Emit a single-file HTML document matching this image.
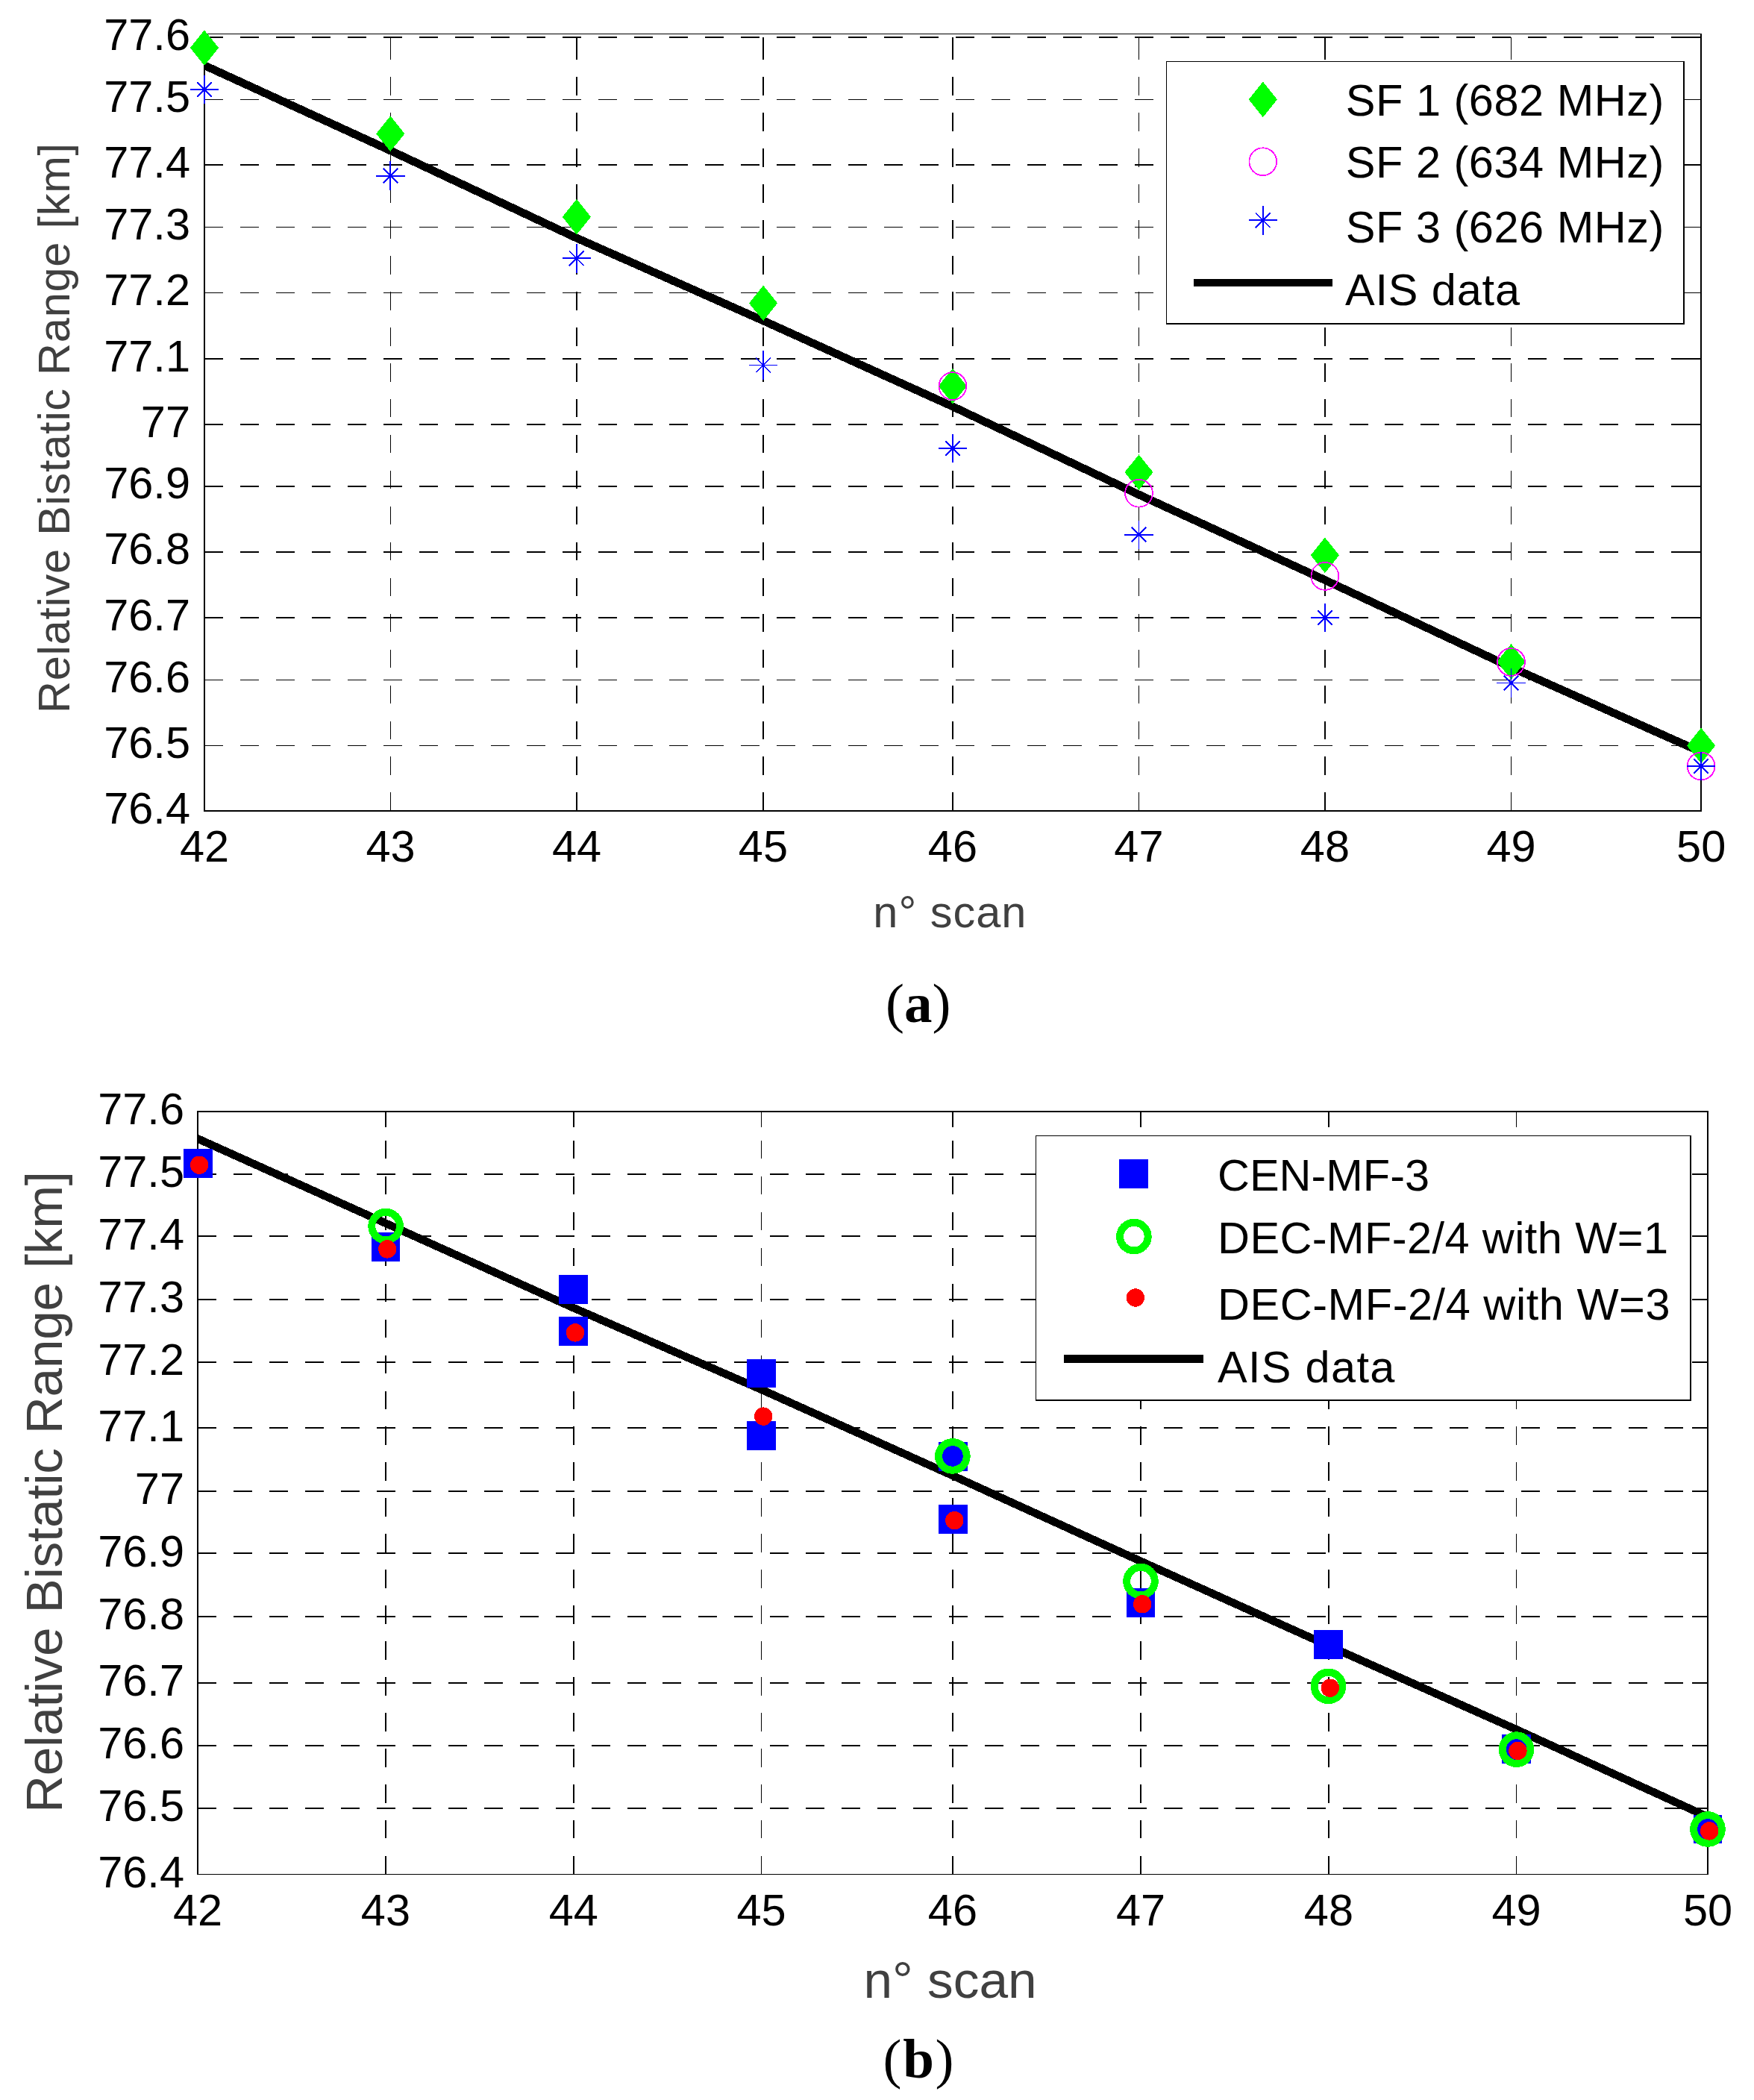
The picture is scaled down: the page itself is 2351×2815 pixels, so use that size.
<!DOCTYPE html>
<html><head><meta charset="utf-8"><title>Relative Bistatic Range</title>
<style>html,body{margin:0;padding:0;background:#fff}svg{display:block}</style></head><body>
<svg width="2351" height="2815" viewBox="0 0 2351 2815">
<rect width="2351" height="2815" fill="#fff"/>
<g id="plot-a" shape-rendering="crispEdges">
<g shape-rendering="crispEdges" stroke="#000" fill="none">
<line x1="274.1" y1="50" x2="2280.2" y2="50" stroke-width="2" stroke-dasharray="25 22.95"/>
<line x1="274.1" y1="50" x2="295.1" y2="50" stroke-width="2"/>
<line x1="2280.2" y1="50" x2="2259.2" y2="50" stroke-width="2"/>
<line x1="274.1" y1="133.5" x2="2280.2" y2="133.5" stroke-width="1" stroke-dasharray="25 22.95"/>
<line x1="274.1" y1="133.5" x2="295.1" y2="133.5" stroke-width="1"/>
<line x1="2280.2" y1="133.5" x2="2259.2" y2="133.5" stroke-width="1"/>
<line x1="274.1" y1="221" x2="2280.2" y2="221" stroke-width="2" stroke-dasharray="25 22.95"/>
<line x1="274.1" y1="221" x2="295.1" y2="221" stroke-width="2"/>
<line x1="2280.2" y1="221" x2="2259.2" y2="221" stroke-width="2"/>
<line x1="274.1" y1="304.5" x2="2280.2" y2="304.5" stroke-width="1" stroke-dasharray="25 22.95"/>
<line x1="274.1" y1="304.5" x2="295.1" y2="304.5" stroke-width="1"/>
<line x1="2280.2" y1="304.5" x2="2259.2" y2="304.5" stroke-width="1"/>
<line x1="274.1" y1="392.5" x2="2280.2" y2="392.5" stroke-width="1" stroke-dasharray="25 22.95"/>
<line x1="274.1" y1="392.5" x2="295.1" y2="392.5" stroke-width="1"/>
<line x1="2280.2" y1="392.5" x2="2259.2" y2="392.5" stroke-width="1"/>
<line x1="274.1" y1="481" x2="2280.2" y2="481" stroke-width="2" stroke-dasharray="25 22.95"/>
<line x1="274.1" y1="481" x2="295.1" y2="481" stroke-width="2"/>
<line x1="2280.2" y1="481" x2="2259.2" y2="481" stroke-width="2"/>
<line x1="274.1" y1="569" x2="2280.2" y2="569" stroke-width="2" stroke-dasharray="25 22.95"/>
<line x1="274.1" y1="569" x2="295.1" y2="569" stroke-width="2"/>
<line x1="2280.2" y1="569" x2="2259.2" y2="569" stroke-width="2"/>
<line x1="274.1" y1="652" x2="2280.2" y2="652" stroke-width="2" stroke-dasharray="25 22.95"/>
<line x1="274.1" y1="652" x2="295.1" y2="652" stroke-width="2"/>
<line x1="2280.2" y1="652" x2="2259.2" y2="652" stroke-width="2"/>
<line x1="274.1" y1="740" x2="2280.2" y2="740" stroke-width="2" stroke-dasharray="25 22.95"/>
<line x1="274.1" y1="740" x2="295.1" y2="740" stroke-width="2"/>
<line x1="2280.2" y1="740" x2="2259.2" y2="740" stroke-width="2"/>
<line x1="274.1" y1="828" x2="2280.2" y2="828" stroke-width="2" stroke-dasharray="25 22.95"/>
<line x1="274.1" y1="828" x2="295.1" y2="828" stroke-width="2"/>
<line x1="2280.2" y1="828" x2="2259.2" y2="828" stroke-width="2"/>
<line x1="274.1" y1="911.5" x2="2280.2" y2="911.5" stroke-width="1" stroke-dasharray="25 22.95"/>
<line x1="274.1" y1="911.5" x2="295.1" y2="911.5" stroke-width="1"/>
<line x1="2280.2" y1="911.5" x2="2259.2" y2="911.5" stroke-width="1"/>
<line x1="274.1" y1="999.5" x2="2280.2" y2="999.5" stroke-width="1" stroke-dasharray="25 22.95"/>
<line x1="274.1" y1="999.5" x2="295.1" y2="999.5" stroke-width="1"/>
<line x1="2280.2" y1="999.5" x2="2259.2" y2="999.5" stroke-width="1"/>
<line x1="523.5" y1="1086.9" x2="523.5" y2="49.8" stroke-width="1" stroke-dasharray="24.5 23.45"/>
<line x1="523.5" y1="1086.9" x2="523.5" y2="1065.9" stroke-width="1"/>
<line x1="523.5" y1="49.8" x2="523.5" y2="70.8" stroke-width="1"/>
<line x1="773" y1="1086.9" x2="773" y2="49.8" stroke-width="2" stroke-dasharray="24.5 23.45"/>
<line x1="773" y1="1086.9" x2="773" y2="1065.9" stroke-width="2"/>
<line x1="773" y1="49.8" x2="773" y2="70.8" stroke-width="2"/>
<line x1="1023" y1="1086.9" x2="1023" y2="49.8" stroke-width="2" stroke-dasharray="24.5 23.45"/>
<line x1="1023" y1="1086.9" x2="1023" y2="1065.9" stroke-width="2"/>
<line x1="1023" y1="49.8" x2="1023" y2="70.8" stroke-width="2"/>
<line x1="1277" y1="1086.9" x2="1277" y2="49.8" stroke-width="2" stroke-dasharray="24.5 23.45"/>
<line x1="1277" y1="1086.9" x2="1277" y2="1065.9" stroke-width="2"/>
<line x1="1277" y1="49.8" x2="1277" y2="70.8" stroke-width="2"/>
<line x1="1526.5" y1="1086.9" x2="1526.5" y2="49.8" stroke-width="1" stroke-dasharray="24.5 23.45"/>
<line x1="1526.5" y1="1086.9" x2="1526.5" y2="1065.9" stroke-width="1"/>
<line x1="1526.5" y1="49.8" x2="1526.5" y2="70.8" stroke-width="1"/>
<line x1="1776" y1="1086.9" x2="1776" y2="49.8" stroke-width="2" stroke-dasharray="24.5 23.45"/>
<line x1="1776" y1="1086.9" x2="1776" y2="1065.9" stroke-width="2"/>
<line x1="1776" y1="49.8" x2="1776" y2="70.8" stroke-width="2"/>
<line x1="2025.5" y1="1086.9" x2="2025.5" y2="49.8" stroke-width="1" stroke-dasharray="24.5 23.45"/>
<line x1="2025.5" y1="1086.9" x2="2025.5" y2="1065.9" stroke-width="1"/>
<line x1="2025.5" y1="49.8" x2="2025.5" y2="70.8" stroke-width="1"/>
<line x1="273.1" y1="45.5" x2="2281.2" y2="45.5" stroke-width="1"/>
<line x1="273.1" y1="1087" x2="2281.2" y2="1087" stroke-width="2"/>
<line x1="274" y1="45.4" x2="274" y2="1086.9" stroke-width="2"/>
<line x1="2280" y1="45.4" x2="2280" y2="1086.9" stroke-width="2"/>
</g>
<g font-family='"Liberation Sans", Arial, Helvetica, sans-serif' font-size="59.5" fill="#000">
<text x="255" y="66.6" text-anchor="end">77.6</text>
<text x="255" y="150.4" text-anchor="end">77.5</text>
<text x="255" y="237.9" text-anchor="end">77.4</text>
<text x="255" y="321.4" text-anchor="end">77.3</text>
<text x="255" y="409.1" text-anchor="end">77.2</text>
<text x="255" y="497.8" text-anchor="end">77.1</text>
<text x="255" y="585.5" text-anchor="end">77</text>
<text x="255" y="668.4" text-anchor="end">76.9</text>
<text x="255" y="756.4" text-anchor="end">76.8</text>
<text x="255" y="844.7" text-anchor="end">76.7</text>
<text x="255" y="928" text-anchor="end">76.6</text>
<text x="255" y="1016.1" text-anchor="end">76.5</text>
<text x="255" y="1103.7" text-anchor="end">76.4</text>
<text x="274.1" y="1154.5" text-anchor="middle">42</text>
<text x="523.6" y="1154.5" text-anchor="middle">43</text>
<text x="773.1" y="1154.5" text-anchor="middle">44</text>
<text x="1022.9" y="1154.5" text-anchor="middle">45</text>
<text x="1276.9" y="1154.5" text-anchor="middle">46</text>
<text x="1526.4" y="1154.5" text-anchor="middle">47</text>
<text x="1775.9" y="1154.5" text-anchor="middle">48</text>
<text x="2025.5" y="1154.5" text-anchor="middle">49</text>
<text x="2280.2" y="1154.5" text-anchor="middle">50</text>
</g>
<clipPath id="ca"><rect x="274.1" y="45.4" width="2006.1" height="1041.5"/></clipPath>
<polyline points="254.1,78.5 274.1,87.7 523.6,202 773.1,319.2 1022.9,429.8 1276.9,544.9 1526.4,663 1775.9,777.5 2025.5,894.5 2280.2,1008 2300.2,1017" clip-path="url(#ca)" fill="none" stroke="#000" stroke-width="10.8" stroke-linejoin="round"/>
<polygon points="274,40.4 293.1,64.2 274,88 254.9,64.2" fill="#00ff00"/>
<polygon points="523.3,155.4 542.4,179.2 523.3,203 504.2,179.2" fill="#00ff00"/>
<polygon points="772.9,266.9 792,290.7 772.9,314.5 753.8,290.7" fill="#00ff00"/>
<polygon points="1023.1,382.6 1042.2,406.4 1023.1,430.2 1004,406.4" fill="#00ff00"/>
<polygon points="1276.9,493.8 1296,517.6 1276.9,541.4 1257.8,517.6" fill="#00ff00"/>
<polygon points="1526.5,609.3 1545.6,633.1 1526.5,656.9 1507.4,633.1" fill="#00ff00"/>
<polygon points="1775.9,720.5 1795,744.3 1775.9,768.1 1756.8,744.3" fill="#00ff00"/>
<polygon points="2025.5,863.2 2044.6,887 2025.5,910.8 2006.4,887" fill="#00ff00"/>
<polygon points="2280.1,975.7 2299.2,999.5 2280.1,1023.3 2261,999.5" fill="#00ff00"/>
<circle cx="1276.9" cy="517.6" r="18.4" fill="none" stroke="#ff00ff" stroke-width="1.8"/>
<circle cx="1526.5" cy="661.2" r="18.4" fill="none" stroke="#ff00ff" stroke-width="1.8"/>
<circle cx="1775.9" cy="772.4" r="18.4" fill="none" stroke="#ff00ff" stroke-width="1.8"/>
<circle cx="2025.5" cy="887.5" r="18.4" fill="none" stroke="#ff00ff" stroke-width="1.8"/>
<circle cx="2280.1" cy="1027" r="18.4" fill="none" stroke="#ff00ff" stroke-width="1.8"/>
<path d="M254.7 119.8H293.3M274 100.5V139.1M264.2 110L283.8 129.6M264.2 129.6L283.8 110" fill="none" stroke="#0000ff" stroke-width="1.9"/>
<path d="M504 235.6H542.6M523.3 216.3V254.9M513.5 225.8L533.1 245.4M513.5 245.4L533.1 225.8" fill="none" stroke="#0000ff" stroke-width="1.9"/>
<path d="M753.6 346.4H792.2M772.9 327.1V365.7M763.1 336.6L782.7 356.2M763.1 356.2L782.7 336.6" fill="none" stroke="#0000ff" stroke-width="1.9"/>
<path d="M1003.8 489.5H1042.4M1023.1 470.2V508.8M1013.3 479.7L1032.9 499.3M1013.3 499.3L1032.9 479.7" fill="none" stroke="#0000ff" stroke-width="1.9"/>
<path d="M1257.6 601H1296.2M1276.9 581.7V620.3M1267.1 591.2L1286.7 610.8M1267.1 610.8L1286.7 591.2" fill="none" stroke="#0000ff" stroke-width="1.9"/>
<path d="M1507.2 716.8H1545.8M1526.5 697.5V736.1M1516.7 707L1536.3 726.6M1516.7 726.6L1536.3 707" fill="none" stroke="#0000ff" stroke-width="1.9"/>
<path d="M1756.6 828.1H1795.2M1775.9 808.8V847.4M1766.1 818.3L1785.7 837.9M1766.1 837.9L1785.7 818.3" fill="none" stroke="#0000ff" stroke-width="1.9"/>
<path d="M2006.2 915.5H2044.8M2025.5 896.2V934.8M2015.7 905.7L2035.3 925.3M2015.7 925.3L2035.3 905.7" fill="none" stroke="#0000ff" stroke-width="1.9"/>
<path d="M2260.8 1027H2299.4M2280.1 1007.7V1046.3M2270.3 1017.2L2289.9 1036.8M2270.3 1036.8L2289.9 1017.2" fill="none" stroke="#0000ff" stroke-width="1.9"/>
<rect x="1563.3" y="82.3" width="693.8" height="351.8" fill="#fff" stroke="#000" stroke-width="1.4" shape-rendering="crispEdges"/>
<polygon points="1692.8,109.6 1711.9,133.4 1692.8,157.2 1673.7,133.4" fill="#00ff00"/>
<circle cx="1692.8" cy="216.7" r="18.4" fill="none" stroke="#ff00ff" stroke-width="1.8"/>
<path d="M1673.5 295.3H1712.1M1692.8 276V314.6M1683 285.5L1702.6 305.1M1683 305.1L1702.6 285.5" fill="none" stroke="#0000ff" stroke-width="1.9"/>
<line x1="1599.7" y1="378.8" x2="1785.8" y2="378.8" stroke="#000" stroke-width="10"/>
<g font-family='"Liberation Sans", Arial, Helvetica, sans-serif' font-size="59.5" fill="#000">
<text x="1803.8" y="154.6" textLength="426.5" lengthAdjust="spacing">SF 1 (682 MHz)</text>
<text x="1803.8" y="237.9" textLength="426.5" lengthAdjust="spacing">SF 2 (634 MHz)</text>
<text x="1803.8" y="325.2" textLength="426.5" lengthAdjust="spacing">SF 3 (626 MHz)</text>
<text x="1803.0" y="408.9" textLength="234" lengthAdjust="spacing">AIS data</text>
</g>
<g font-family='"Liberation Sans", Arial, Helvetica, sans-serif' fill="#404040">
<text x="1272.8" y="1243.4" font-size="59.5" text-anchor="middle" textLength="205" lengthAdjust="spacing">n° scan</text>
<text transform="translate(93.2 956) rotate(-90)" font-size="59.5" textLength="764" lengthAdjust="spacing">Relative Bistatic Range [km]</text>
</g>
<text x="1230.8" y="1369.6" font-family='"Liberation Serif", "Times New Roman", serif' font-size="75" text-anchor="middle" fill="#000">(<tspan font-weight="bold">a</tspan>)</text>
</g>
<g id="plot-b" shape-rendering="crispEdges">
<g shape-rendering="crispEdges" stroke="#000" fill="none">
<line x1="265.1" y1="1574" x2="2289" y2="1574" stroke-width="2" stroke-dasharray="25 22.95"/>
<line x1="265.1" y1="1574" x2="286.1" y2="1574" stroke-width="2"/>
<line x1="2289" y1="1574" x2="2268" y2="1574" stroke-width="2"/>
<line x1="265.1" y1="1657" x2="2289" y2="1657" stroke-width="2" stroke-dasharray="25 22.95"/>
<line x1="265.1" y1="1657" x2="286.1" y2="1657" stroke-width="2"/>
<line x1="2289" y1="1657" x2="2268" y2="1657" stroke-width="2"/>
<line x1="265.1" y1="1742" x2="2289" y2="1742" stroke-width="2" stroke-dasharray="25 22.95"/>
<line x1="265.1" y1="1742" x2="286.1" y2="1742" stroke-width="2"/>
<line x1="2289" y1="1742" x2="2268" y2="1742" stroke-width="2"/>
<line x1="265.1" y1="1826" x2="2289" y2="1826" stroke-width="2" stroke-dasharray="25 22.95"/>
<line x1="265.1" y1="1826" x2="286.1" y2="1826" stroke-width="2"/>
<line x1="2289" y1="1826" x2="2268" y2="1826" stroke-width="2"/>
<line x1="265.1" y1="1914" x2="2289" y2="1914" stroke-width="2" stroke-dasharray="25 22.95"/>
<line x1="265.1" y1="1914" x2="286.1" y2="1914" stroke-width="2"/>
<line x1="2289" y1="1914" x2="2268" y2="1914" stroke-width="2"/>
<line x1="265.1" y1="1999" x2="2289" y2="1999" stroke-width="2" stroke-dasharray="25 22.95"/>
<line x1="265.1" y1="1999" x2="286.1" y2="1999" stroke-width="2"/>
<line x1="2289" y1="1999" x2="2268" y2="1999" stroke-width="2"/>
<line x1="265.1" y1="2082" x2="2289" y2="2082" stroke-width="2" stroke-dasharray="25 22.95"/>
<line x1="265.1" y1="2082" x2="286.1" y2="2082" stroke-width="2"/>
<line x1="2289" y1="2082" x2="2268" y2="2082" stroke-width="2"/>
<line x1="265.1" y1="2167" x2="2289" y2="2167" stroke-width="2" stroke-dasharray="25 22.95"/>
<line x1="265.1" y1="2167" x2="286.1" y2="2167" stroke-width="2"/>
<line x1="2289" y1="2167" x2="2268" y2="2167" stroke-width="2"/>
<line x1="265.1" y1="2256" x2="2289" y2="2256" stroke-width="2" stroke-dasharray="25 22.95"/>
<line x1="265.1" y1="2256" x2="286.1" y2="2256" stroke-width="2"/>
<line x1="2289" y1="2256" x2="2268" y2="2256" stroke-width="2"/>
<line x1="265.1" y1="2340" x2="2289" y2="2340" stroke-width="2" stroke-dasharray="25 22.95"/>
<line x1="265.1" y1="2340" x2="286.1" y2="2340" stroke-width="2"/>
<line x1="2289" y1="2340" x2="2268" y2="2340" stroke-width="2"/>
<line x1="265.1" y1="2424" x2="2289" y2="2424" stroke-width="2" stroke-dasharray="25 22.95"/>
<line x1="265.1" y1="2424" x2="286.1" y2="2424" stroke-width="2"/>
<line x1="2289" y1="2424" x2="2268" y2="2424" stroke-width="2"/>
<line x1="517" y1="2512.4" x2="517" y2="1489.7" stroke-width="2" stroke-dasharray="24.5 23.45"/>
<line x1="517" y1="2512.4" x2="517" y2="2491.4" stroke-width="2"/>
<line x1="517" y1="1489.7" x2="517" y2="1510.7" stroke-width="2"/>
<line x1="769" y1="2512.4" x2="769" y2="1489.7" stroke-width="2" stroke-dasharray="24.5 23.45"/>
<line x1="769" y1="2512.4" x2="769" y2="2491.4" stroke-width="2"/>
<line x1="769" y1="1489.7" x2="769" y2="1510.7" stroke-width="2"/>
<line x1="1020.5" y1="2512.4" x2="1020.5" y2="1489.7" stroke-width="1" stroke-dasharray="24.5 23.45"/>
<line x1="1020.5" y1="2512.4" x2="1020.5" y2="2491.4" stroke-width="1"/>
<line x1="1020.5" y1="1489.7" x2="1020.5" y2="1510.7" stroke-width="1"/>
<line x1="1277" y1="2512.4" x2="1277" y2="1489.7" stroke-width="2" stroke-dasharray="24.5 23.45"/>
<line x1="1277" y1="2512.4" x2="1277" y2="2491.4" stroke-width="2"/>
<line x1="1277" y1="1489.7" x2="1277" y2="1510.7" stroke-width="2"/>
<line x1="1529" y1="2512.4" x2="1529" y2="1489.7" stroke-width="2" stroke-dasharray="24.5 23.45"/>
<line x1="1529" y1="2512.4" x2="1529" y2="2491.4" stroke-width="2"/>
<line x1="1529" y1="1489.7" x2="1529" y2="1510.7" stroke-width="2"/>
<line x1="1781" y1="2512.4" x2="1781" y2="1489.7" stroke-width="2" stroke-dasharray="24.5 23.45"/>
<line x1="1781" y1="2512.4" x2="1781" y2="2491.4" stroke-width="2"/>
<line x1="1781" y1="1489.7" x2="1781" y2="1510.7" stroke-width="2"/>
<line x1="2032.5" y1="2512.4" x2="2032.5" y2="1489.7" stroke-width="1" stroke-dasharray="24.5 23.45"/>
<line x1="2032.5" y1="2512.4" x2="2032.5" y2="2491.4" stroke-width="1"/>
<line x1="2032.5" y1="1489.7" x2="2032.5" y2="1510.7" stroke-width="1"/>
<line x1="264.1" y1="1490" x2="2290" y2="1490" stroke-width="2"/>
<line x1="264.1" y1="2512.5" x2="2290" y2="2512.5" stroke-width="1"/>
<line x1="265" y1="1489.7" x2="265" y2="2512.4" stroke-width="2"/>
<line x1="2289" y1="1489.7" x2="2289" y2="2512.4" stroke-width="2"/>
</g>
<g font-family='"Liberation Sans", Arial, Helvetica, sans-serif' font-size="59.5" fill="#000">
<text x="247" y="1507.1" text-anchor="end">77.6</text>
<text x="247" y="1591.1" text-anchor="end">77.5</text>
<text x="247" y="1674.8" text-anchor="end">77.4</text>
<text x="247" y="1759" text-anchor="end">77.3</text>
<text x="247" y="1842.9" text-anchor="end">77.2</text>
<text x="247" y="1931.8" text-anchor="end">77.1</text>
<text x="247" y="2016.2" text-anchor="end">77</text>
<text x="247" y="2099.9" text-anchor="end">76.9</text>
<text x="247" y="2184.2" text-anchor="end">76.8</text>
<text x="247" y="2273" text-anchor="end">76.7</text>
<text x="247" y="2357.2" text-anchor="end">76.6</text>
<text x="247" y="2441.2" text-anchor="end">76.5</text>
<text x="247" y="2529.8" text-anchor="end">76.4</text>
<text x="265.1" y="2581" text-anchor="middle">42</text>
<text x="516.9" y="2581" text-anchor="middle">43</text>
<text x="768.8" y="2581" text-anchor="middle">44</text>
<text x="1020.6" y="2581" text-anchor="middle">45</text>
<text x="1276.9" y="2581" text-anchor="middle">46</text>
<text x="1529" y="2581" text-anchor="middle">47</text>
<text x="1780.9" y="2581" text-anchor="middle">48</text>
<text x="2032.6" y="2581" text-anchor="middle">49</text>
<text x="2289" y="2581" text-anchor="middle">50</text>
</g>
<clipPath id="cb"><rect x="265.1" y="1489.7" width="2023.9" height="1022.7"/></clipPath>
<polyline points="245.1,1517.4 265.1,1526.4 516.9,1639.7 768.8,1753.2 1020.6,1862.7 1276.9,1978 1529,2092.8 1780.9,2206.2 2032.6,2318.4 2289,2435.5 2309,2444.4" clip-path="url(#cb)" fill="none" stroke="#000" stroke-width="10.6" stroke-linejoin="round"/>
<rect x="246.4" y="1540.2" width="38.5" height="38.5" fill="#0000ff"/>
<rect x="497.9" y="1652.2" width="38.5" height="38.5" fill="#0000ff"/>
<rect x="749.2" y="1709" width="38.5" height="38.5" fill="#0000ff"/>
<rect x="749.2" y="1765.2" width="38.5" height="38.5" fill="#0000ff"/>
<rect x="1001.4" y="1821.5" width="38.5" height="38.5" fill="#0000ff"/>
<rect x="1001.4" y="1905.2" width="38.5" height="38.5" fill="#0000ff"/>
<rect x="1258.2" y="1933.2" width="38.5" height="38.5" fill="#0000ff"/>
<rect x="1258.2" y="2017.3" width="38.5" height="38.5" fill="#0000ff"/>
<rect x="1509.8" y="2129.1" width="38.5" height="38.5" fill="#0000ff"/>
<rect x="1761.2" y="2185.3" width="38.5" height="38.5" fill="#0000ff"/>
<rect x="2013.2" y="2325.2" width="38.5" height="38.5" fill="#0000ff"/>
<rect x="2269.7" y="2432.8" width="38.5" height="38.5" fill="#0000ff"/>
<circle cx="517.1" cy="1643.6" r="18.8" fill="none" stroke="#00ff00" stroke-width="10.0"/>
<circle cx="1276.9" cy="1951.9" r="18.8" fill="none" stroke="#00ff00" stroke-width="10.0"/>
<circle cx="1529" cy="2119.6" r="18.8" fill="none" stroke="#00ff00" stroke-width="10.0"/>
<circle cx="1780.5" cy="2260.4" r="18.8" fill="none" stroke="#00ff00" stroke-width="10.0"/>
<circle cx="2032.6" cy="2345.1" r="18.8" fill="none" stroke="#00ff00" stroke-width="10.0"/>
<circle cx="2289" cy="2452" r="18.8" fill="none" stroke="#00ff00" stroke-width="10.0"/>
<circle cx="267.2" cy="1561.7" r="12.2" fill="#ff0000"/>
<circle cx="519.2" cy="1674.4" r="12.2" fill="#ff0000"/>
<circle cx="771" cy="1786.4" r="12.2" fill="#ff0000"/>
<circle cx="1023.2" cy="1898.6" r="12.2" fill="#ff0000"/>
<circle cx="1279.3" cy="2038.1" r="12.2" fill="#ff0000"/>
<circle cx="1531.1" cy="2150.3" r="12.2" fill="#ff0000"/>
<circle cx="1782.8" cy="2262.7" r="12.2" fill="#ff0000"/>
<circle cx="2034.4" cy="2346.9" r="12.2" fill="#ff0000"/>
<circle cx="2291.1" cy="2454.4" r="12.2" fill="#ff0000"/>
<rect x="1388.5" y="1522.4" width="877.5" height="354.7" fill="#fff" stroke="#000" stroke-width="1.4" shape-rendering="crispEdges"/>
<rect x="1500" y="1553.8" width="39" height="39" fill="#0000ff"/>
<circle cx="1519.9" cy="1657.6" r="18.8" fill="none" stroke="#00ff00" stroke-width="10.0"/>
<circle cx="1521.9" cy="1739.5" r="12.2" fill="#ff0000"/>
<line x1="1426.2" y1="1821" x2="1612.9" y2="1821" stroke="#000" stroke-width="11"/>
<g font-family='"Liberation Sans", Arial, Helvetica, sans-serif' font-size="59.5" fill="#000">
<text x="1632" y="1595.5" textLength="284" lengthAdjust="spacing">CEN-MF-3</text>
<text x="1632" y="1680.2" textLength="604" lengthAdjust="spacing">DEC-MF-2/4 with W=1</text>
<text x="1632" y="1768.8" textLength="606.5" lengthAdjust="spacing">DEC-MF-2/4 with W=3</text>
<text x="1632" y="1852.9" textLength="237.3" lengthAdjust="spacing">AIS data</text>
</g>
<g font-family='"Liberation Sans", Arial, Helvetica, sans-serif' fill="#404040">
<text x="1273.5" y="2678" font-size="69.4" text-anchor="middle">n° scan</text>
<text transform="translate(83 2430) rotate(-90)" font-size="69.4" textLength="860" lengthAdjust="spacing">Relative Bistatic Range [km]</text>
</g>
<text x="1231" y="2785.3" font-family='"Liberation Serif", "Times New Roman", serif' font-size="75" textLength="95" lengthAdjust="spacing" text-anchor="middle" fill="#000">(<tspan font-weight="bold">b</tspan>)</text>
</g>
</svg></body></html>
